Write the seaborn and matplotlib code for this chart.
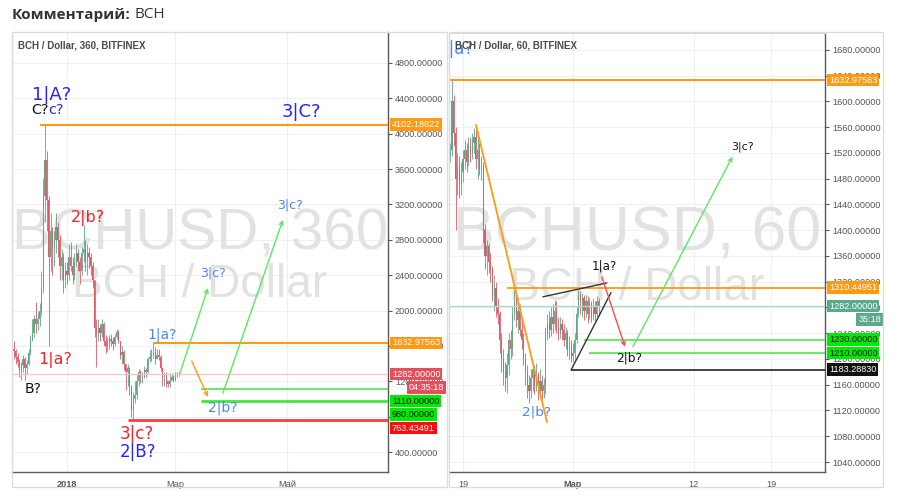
import matplotlib
matplotlib.use("Agg")
import matplotlib.dates as mdates
import matplotlib.pyplot as plt
import matplotlib.transforms as mtransforms
import pandas as pd
import seaborn as sns
from matplotlib.patches import Rectangle

# ---------------- left pane: BCH / Dollar, 360 ----------------
left_start = "2017-12-02"
left_open0 = 1500
left_close = [1560, 1540, 1480, 1420, 1330, 1380, 1450, 1350, 1400, 1520, 1680, 1750, 1900, 1850, 1900,
              2000, 2250, 3300, 3700, 3250, 2600, 2900, 2700, 2800, 2950, 2800, 2500, 2600, 2350, 2450,
              2400, 2600, 2500, 2400, 2550, 2650, 2550, 2450, 2650, 2700, 2550, 2650, 2600, 2500, 2350,
              1800, 1750, 1800, 1750, 1850, 1650, 1600, 1620, 1680, 1650, 1620, 1700, 1760, 1650, 1500,
              1530, 1400, 1300, 1350, 1150, 870, 1000, 1050, 1200, 1300, 1250, 1250, 1330, 1300, 1450,
              1480, 1500, 1530, 1450, 1500, 1480, 1350, 1250, 1280, 1200, 1170, 1200, 1250, 1210,
              1290, 1270, 1282]
left_high = [1630, 1650, 1560, 1520, 1450, 1420, 1500, 1480, 1440, 1560, 1720, 1900, 1950, 2100, 1980,
             2080, 2450, 3500, 4102, 3800, 3300, 3100, 2950, 2900, 3100, 3000, 2850, 2700, 2650, 2550,
             2550, 2750, 2780, 2600, 2650, 2750, 2700, 2600, 2720, 2967, 2800, 2750, 2720, 2650, 2550,
             2350, 1900, 1900, 1850, 1900, 1870, 1720, 1700, 1720, 1740, 1700, 1740, 1790, 1780, 1660,
             1600, 1550, 1400, 1400, 1360, 1160, 1080, 1200, 1280, 1340, 1330, 1300, 1370, 1350, 1480,
             1550, 1560, 1633, 1590, 1560, 1560, 1500, 1360, 1310, 1300, 1210, 1290, 1292, 1270,
             1307, 1303, 1300]
left_low = [1420, 1450, 1400, 1360, 1250, 1214, 1300, 1220, 1280, 1380, 1500, 1650, 1700, 1750, 1780,
            1820, 1950, 2200, 3000, 2900, 1600, 2450, 2400, 2500, 2650, 2600, 2350, 2350, 2200, 2250,
            2300, 2350, 2450, 2300, 2350, 2500, 2450, 2300, 2400, 2550, 2450, 2400, 2480, 2400, 2250,
            1700, 1360, 1650, 1650, 1700, 1600, 1520, 1540, 1570, 1600, 1550, 1600, 1680, 1630, 1450,
            1400, 1330, 1100, 1150, 1050, 800, 763, 950, 1000, 1150, 1180, 1180, 1240, 1250, 1290,
            1420, 1430, 1460, 1400, 1450, 1440, 1320, 1150, 1147, 1140, 1132, 1140, 1220, 1196,
            1200, 1250, 1256]
left_xlim = ("2017-12-02", "2018-06-25")
left_ylim = (174, 5150)
left_yticks = list(range(400, 4801, 400))
left_xticks = ["2018-01-01", "2018-03-01", "2018-05-01"]
left_xticklabels = ["2018", "Мар", "Май"]

# ---------------- right pane: BCH / Dollar, 60 ----------------
right_start = "2018-02-17 20:00"
right_open0 = 1515
right_close = [1525, 1600, 1550, 1480, 1500, 1470, 1490, 1510, 1525, 1505, 1530, 1520, 1535, 1545, 1510,
               1525, 1495, 1500, 1400, 1360, 1375, 1350, 1340, 1300, 1310, 1280, 1270, 1230, 1200, 1180,
               1170, 1190, 1230, 1215, 1270, 1290, 1260, 1275, 1245, 1230, 1200, 1180, 1160, 1150, 1170,
               1185, 1160, 1175, 1150, 1165, 1150, 1160, 1240, 1255, 1245, 1265, 1255, 1275, 1250, 1240,
               1255, 1245, 1230, 1240, 1215, 1220, 1205, 1210, 1230, 1270, 1300, 1290, 1295, 1275, 1290,
               1270, 1285, 1265, 1280, 1270, 1290, 1282]
right_high = [1535, 1633, 1610, 1560, 1520, 1515, 1505, 1525, 1540, 1535, 1545, 1545, 1550, 1559, 1555,
              1545, 1535, 1515, 1505, 1410, 1385, 1380, 1365, 1345, 1330, 1320, 1295, 1275, 1240, 1215,
              1195, 1210, 1240, 1245, 1280, 1307, 1300, 1295, 1285, 1260, 1240, 1210, 1190, 1175, 1185,
              1194, 1190, 1194, 1180, 1185, 1175, 1170, 1250, 1270, 1275, 1280, 1285, 1292, 1290, 1265,
              1265, 1262, 1255, 1250, 1245, 1235, 1230, 1225, 1240, 1280, 1307, 1305, 1303, 1300, 1300,
              1298, 1295, 1290, 1295, 1290, 1298, 1295]
right_low = [1505, 1515, 1530, 1400, 1455, 1450, 1455, 1475, 1495, 1490, 1500, 1505, 1510, 1520, 1495,
             1480, 1485, 1478, 1380, 1340, 1330, 1334, 1320, 1290, 1275, 1265, 1255, 1210, 1180, 1160,
             1150, 1147, 1175, 1200, 1205, 1260, 1250, 1240, 1235, 1215, 1190, 1160, 1140, 1132, 1140,
             1150, 1145, 1150, 1137, 1140, 1138, 1140, 1145, 1230, 1232, 1235, 1240, 1245, 1240, 1230,
             1232, 1230, 1220, 1215, 1205, 1200, 1196, 1196, 1200, 1225, 1265, 1270, 1265, 1260, 1265,
             1256, 1262, 1258, 1260, 1258, 1265, 1270]
right_xlim = ("2018-02-17 17:30", "2018-03-23 22:00")
right_ylim = (1024.5, 1706)
right_yticks = list(range(1040, 1681, 40))
right_xticks = ["2018-02-19", "2018-03-01", "2018-03-12", "2018-03-19"]
right_xticklabels = ["19", "Мар", "12", "19"]

ORANGE = "#ff9a14"
GREEN = "#5fe65f"
DBLUE = "#2626f0"
LBLUE = "#4f86ec"
RED = "#f5222d"
UP, DOWN = "#5ea888", "#dd5a66"

sns.set_theme(style="white")
plt.rcParams["font.family"] = ["Liberation Sans", "DejaVu Sans"]

W, H = 900, 504
fig = plt.figure(figsize=(9, 5.04), dpi=100)
fig.patch.set_facecolor("white")


def fig_rect(x0, y0, x1, y1):
    return [x0 / W, 1 - y1 / H, (x1 - x0) / W, (y1 - y0) / H]


def candles(ax, start, freq, open0, close, high, low, width):
    t = pd.date_range(start, periods=len(close), freq=freq)
    opens = [open0] + close[:-1]
    x = mdates.date2num(t)
    cols = [UP if c >= o else DOWN for o, c in zip(opens, close)]
    ax.vlines(x, low, high, colors=cols, lw=0.6, zorder=2)
    ax.bar(x, [max(abs(c - o), 3) for o, c in zip(opens, close)], bottom=[min(o, c) for o, c in zip(opens, close)],
           width=width, color=cols, lw=0, zorder=2)


def level(ax, price, start, color, lw):
    x0 = mdates.date2num(pd.Timestamp(start)) if start else ax.get_xlim()[0]
    ax.plot([x0, ax.get_xlim()[1]], [price, price], color=color, lw=lw, zorder=3, solid_capstyle="butt")


def seg(ax, p0, p1, color, lw=1.0, arrow=False):
    a = (mdates.date2num(pd.Timestamp(p0[0])), p0[1])
    b = (mdates.date2num(pd.Timestamp(p1[0])), p1[1])
    if arrow:
        ax.annotate("", xy=b, xytext=a, zorder=4,
                    arrowprops=dict(arrowstyle="->", color=color, lw=lw, mutation_scale=7, shrinkA=0, shrinkB=0))
    else:
        ax.plot([a[0], b[0]], [a[1], b[1]], color=color, lw=lw, zorder=3)


def label(ax, when, price, text, color, size, ha="center"):
    ax.text(mdates.date2num(pd.Timestamp(when)), price, text, color=color, fontsize=size, ha=ha, va="center",
            family="DejaVu Sans", zorder=5, clip_on=True)


def price_tags(ax, tags, gap=13.5):
    trans = mtransforms.blended_transform_factory(ax.transAxes, ax.transData)
    inv = ax.transData.inverted()
    axw = ax.get_position().width * W
    last = None
    for price, text, face, fg, right in sorted(tags, key=lambda t: -t[0]):
        y = ax.transData.transform((0, price))[1]
        if last is not None and last - y < gap:
            y = last - gap
        last = y
        p = inv.transform((0, y))[1]
        x = 1 + (56 / axw if right else 4 / axw)
        ax.text(x, p, text, transform=trans, ha="right" if right else "left", va="center", fontsize=6.6,
                color=fg, clip_on=False, zorder=6,
                bbox=dict(boxstyle="square,pad=0.2", fc=face, ec="none"))


def setup(ax, xlim, ylim, yticks, xticks, xticklabels, bold_idx):
    ax.set_xlim(mdates.date2num(pd.Timestamp(xlim[0])), mdates.date2num(pd.Timestamp(xlim[1])))
    ax.set_ylim(*ylim)
    ax.yaxis.tick_right()
    ax.set_yticks(yticks)
    ax.set_yticklabels([f"{v:.5f}" for v in yticks])
    ax.set_xticks(mdates.date2num(pd.to_datetime(xticks)))
    ax.set_xticklabels(xticklabels)
    for i, t in enumerate(ax.get_xticklabels()):
        if i == bold_idx:
            t.set_fontweight("bold")
    ax.tick_params(axis="both", direction="out", length=3, width=0.8, color="#555555",
                   labelsize=6.6, labelcolor="#555555", pad=2)
    ax.tick_params(axis="x", pad=3)
    ax.set_axisbelow(True)
    ax.grid(True, color="#edf1f6", lw=0.8)
    for side in ("left", "top"):
        ax.spines[side].set_color("#d8d8d8")
        ax.spines[side].set_linewidth(0.8)
    for side in ("right", "bottom"):
        ax.spines[side].set_color("#5a5a5a")
        ax.spines[side].set_linewidth(1.0)


# frames round each widget
for x0, x1 in ((12, 447), (449, 883)):
    fig.add_artist(Rectangle((x0 / W, 1 - 487 / H), (x1 - x0) / W, 455 / H, transform=fig.transFigure,
                             fill=False, ec="#dcdcdc", lw=0.9))

# ---------------- left ----------------
axl = fig.add_axes(fig_rect(12, 32, 388, 472))
setup(axl, left_xlim, left_ylim, left_yticks, left_xticks, left_xticklabels, 0)
axl.text(0.5, 0.505, "BCHUSD, 360", transform=axl.transAxes, ha="center", va="baseline", fontsize=42,
         color="#e2e2e2", zorder=0.6, clip_on=True)
axl.text(0.5, 0.398, "BCH / Dollar", transform=axl.transAxes, ha="center", va="baseline", fontsize=33,
         color="#e2e2e2", zorder=0.6, clip_on=True)
candles(axl, left_start, "D", left_open0, left_close, left_high, left_low, 0.6)
axl.text(6 / 376, 1 - 14 / 440, "BCH / Dollar, 360, BITFINEX", transform=axl.transAxes, fontsize=7,
         fontweight="bold", color="#4a4a4a", va="center", zorder=6)

level(axl, 1282, None, "#f6c4c4", 0.9)
level(axl, 4102.18822, "2017-12-17", ORANGE, 1.5)
level(axl, 1632.97563, "2018-02-17", ORANGE, 1.5)
level(axl, 1110, "2018-03-15", GREEN, 1.3)
level(axl, 980, "2018-03-15", "#3ee83e", 2.0)
level(axl, 763.43491, "2018-02-03", "#ff3b3b", 2.0)

seg(axl, ("2018-03-03 14:00", 1293), ("2018-03-18 20:00", 2255), GREEN, 1.0, True)
seg(axl, ("2018-03-27", 1067), ("2018-04-28 16:00", 3024), GREEN, 1.0, True)
seg(axl, ("2018-03-10", 1429), ("2018-03-18 20:00", 1022), ORANGE, 1.0, True)

label(axl, "2017-12-23 12:00", 4440, "1|A?", DBLUE, 13)
label(axl, "2017-12-21 20:00", 4265, "C?", "#111111", 10.3, "right")
label(axl, "2017-12-21 20:00", 4265, "c?", DBLUE, 10.3, "left")
label(axl, "2018-05-09", 4245, "3|C?", DBLUE, 13)
label(axl, "2018-01-12 10:00", 3047, "2|b?", RED, 11.5)
label(axl, "2018-05-02 12:00", 3194, "3|c?", LBLUE, 9)
label(axl, "2018-03-21 14:00", 2424, "3|c?", LBLUE, 9)
label(axl, "2018-02-21 20:00", 1723, "1|a?", LBLUE, 10)
label(axl, "2017-12-25 12:00", 1440, "1|a?", RED, 11.5)
label(axl, "2017-12-13 12:00", 1112, "B?", "#111111", 10)
label(axl, "2018-03-27", 898, "2|b?", LBLUE, 10)
label(axl, "2018-02-08", 603, "3|c?", RED, 12)
label(axl, "2018-02-08 16:00", 400, "2|B?", DBLUE, 12)

price_tags(axl, [
    (4102.18822, "4102.18822", ORANGE, "white", False),
    (1632.97563, "1632.97563", ORANGE, "white", False),
    (1282.0, "1282.00000", "#e2505e", "white", False),
    (1281.99, "04:35:18", "#e2505e", "white", True),
    (1110.0, "1110.00000", "#00ea00", "#111111", False),
    (980.0, "980.00000", "#00ea00", "#111111", False),
    (763.43491, "763.43491", "#ff0d0d", "white", False),
])

# ---------------- right ----------------
axr = fig.add_axes(fig_rect(449, 33, 825, 472))
setup(axr, right_xlim, right_ylim, right_yticks, right_xticks, right_xticklabels, 1)
axr.text(0.5, 0.505, "BCHUSD, 60", transform=axr.transAxes, ha="center", va="baseline", fontsize=45,
         color="#e2e2e2", zorder=0.6, clip_on=True)
axr.text(0.5, 0.392, "BCH / Dollar", transform=axr.transAxes, ha="center", va="baseline", fontsize=33,
         color="#e2e2e2", zorder=0.6, clip_on=True)
candles(axr, right_start, "4h", right_open0, right_close, right_high, right_low, 0.11)
label(axr, "2018-02-19 23:00", 1681, "1|a?", LBLUE, 12, "right")
axr.text(6 / 376, 1 - 13 / 439, "BCH / Dollar, 60, BITFINEX", transform=axr.transAxes, fontsize=7,
         fontweight="bold", color="#4a4a4a", va="center", zorder=6)

level(axr, 1282, None, "#a9dcc8", 1.0)
level(axr, 1632.97563, None, ORANGE, 1.5)
level(axr, 1310.44951, "2018-02-23", ORANGE, 1.3)
level(axr, 1230, "2018-03-02", GREEN, 1.3)
level(axr, 1210, "2018-03-02 11:00", GREEN, 1.3)
level(axr, 1183.2883, "2018-02-28 20:00", "#222222", 1.2)

seg(axr, ("2018-02-20 04:20", 1563.5), ("2018-02-26 15:20", 1102), ORANGE, 1.3)
seg(axr, ("2018-02-26 06:30", 1296.5), ("2018-03-04 02:00", 1318), "#333333", 1.0)
seg(axr, ("2018-02-28 20:00", 1183), ("2018-03-04 11:00", 1303), "#333333", 1.0)
seg(axr, ("2018-03-03 15:00", 1327.5), ("2018-03-05 17:30", 1219), "#ff4a4a", 1.0, True)
seg(axr, ("2018-03-06 11:00", 1219), ("2018-03-15 12:00", 1514), GREEN, 1.0, True)

label(axr, "2018-03-03 21:00", 1345, "1|a?", "#111111", 8.6)
label(axr, "2018-03-06 02:00", 1202, "2|b?", "#111111", 8.8)
label(axr, "2018-03-16 10:00", 1529, "3|c?", "#111111", 8)
label(axr, "2018-02-25 17:00", 1118, "2|b?", LBLUE, 9.7)

price_tags(axr, [
    (1632.97563, "1632.97563", ORANGE, "white", False),
    (1310.44951, "1310.44951", ORANGE, "white", False),
    (1282.0, "1282.00000", "#5aa98a", "white", False),
    (1281.99, "35:18", "#5aa98a", "white", True),
    (1230.0, "1230.00000", "#00ea00", "#111111", False),
    (1210.0, "1210.00000", "#00ea00", "#111111", False),
    (1183.2883, "1183.28830", "#111111", "white", False),
])

# page heading
t1 = fig.text(12 / W, 1 - 15 / H, "Комментарий:", fontsize=11, fontweight="bold", color="#333333",
              family=["Open Sans", "DejaVu Sans"], va="center")
fig.canvas.draw()
bb = t1.get_window_extent(fig.canvas.get_renderer())
fig.text((bb.x1 + 4) / W, 1 - 15 / H, "BCH", fontsize=11, color="#333333",
         family=["Open Sans", "DejaVu Sans"], va="center")

fig.savefig("out.png", dpi=100)
